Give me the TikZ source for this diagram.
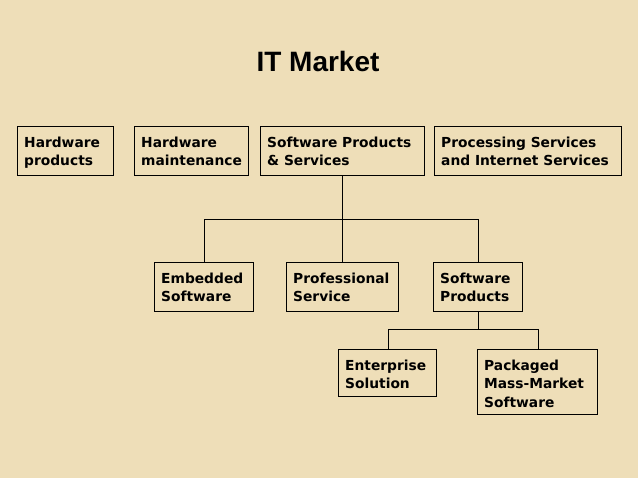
\documentclass[tikz,border=0pt]{standalone}
\usepackage{fontspec}
\setmainfont{DejaVu Sans}
\newfontfamily\titlefont{Liberation Sans}
\begin{document}
\begin{tikzpicture}[x=1pt,y=-1pt,
  bx/.style={draw=black,line width=1pt},
  tx/.style={anchor=north west,inner sep=0pt,align=left,font=\bfseries\fontsize{13.8}{18.5}\selectfont},
  ln/.style={line width=1pt}]
\fill[fill={rgb,255:red,238;green,222;blue,184}] (0,0) rectangle (638,478);
\useasboundingbox (0,0) rectangle (638,478);
\node[font=\titlefont\bfseries\fontsize{28}{32}\selectfont] (title) at (318,61) {IT Market};
\newcommand\bbox[6]{\draw[bx] (#2,#3) rectangle (#4,#5); \coordinate (#1) at (#2,#3);
  \node[tx] (#1t) at (#2+7,#3+9.5) {#6};}
\bbox{hp}{17}{127}{113}{176}{Hardware\\products}
\bbox{hm}{134}{127}{248}{176}{Hardware\\maintenance}
\bbox{sps}{260}{127}{424}{176}{Software Products\\\& Services}
\bbox{ps}{434}{127}{621}{176}{Processing Services\\and Internet Services}
\bbox{es}{154}{263}{253}{312}{Embedded\\Software}
\bbox{pr}{286}{263}{398}{312}{Professional\\Service}
\bbox{sp}{433}{263}{522}{312}{Software\\Products}
\bbox{en}{338}{350}{436}{397}{Enterprise\\Solution}
\bbox{pk}{477}{350}{597}{415}{Packaged\\Mass-Market\\Software}
\coordinate (j1) at (342,220);
\coordinate (j2) at (478,330);
\draw[ln] (342,176) -- (j1);
\draw[ln] (204,263) -- (204,220) -- (478,220) -- (478,263);
\draw[ln] (j1) -- (342,263);
\draw[ln] (478,312) -- (j2);
\draw[ln] (388,350) -- (388,330) -- (538,330) -- (538,350);
\end{tikzpicture}
\end{document}
